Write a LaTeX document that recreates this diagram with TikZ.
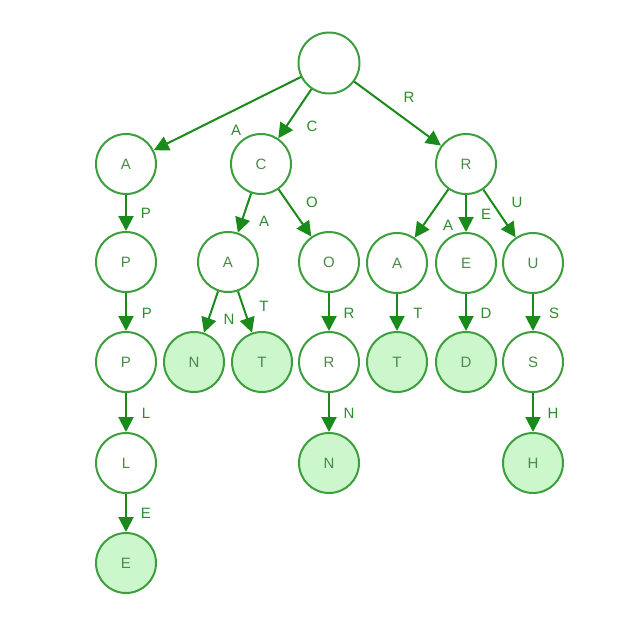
\documentclass[tikz,border=0pt]{standalone}
\usepackage{fontspec}
\setmainfont{Liberation Sans}
\usetikzlibrary{arrows.meta}
\definecolor{nodeline}{HTML}{3C9E3C}
\definecolor{edgeline}{HTML}{1A8A1A}
\definecolor{leaffill}{HTML}{CCF7CC}
\definecolor{nodetext}{HTML}{4A8A4A}
\definecolor{labeltext}{HTML}{2E8B2E}
\begin{document}
\begin{tikzpicture}[x=1pt,y=-1pt,
  trie/.style={circle,draw=nodeline,line width=2pt,minimum size=60pt,inner sep=0pt,font=\fontsize{15}{17}\selectfont,text=nodetext,fill=white},
  leaf/.style={trie,fill=leaffill},
  edge/.style={draw=edgeline,line width=2pt,-{Triangle[length=15pt,width=15pt]}},
  lab/.style={font=\fontsize{15}{17}\selectfont,text=labeltext,inner sep=0pt}]
\useasboundingbox (0,0) rectangle (640,640);
% nodes
\node[trie,minimum size=61pt] (root) at (329,63) {};
\node[trie] (a1) at (126,164) {A};
\node[trie] (c1) at (261,164) {C};
\node[trie] (r1) at (466,164) {R};
\node[trie] (p2) at (126,262) {P};
\node[trie] (a2) at (228,262) {A};
\node[trie] (o2) at (329,262) {O};
\node[trie] (ra2) at (397,263) {A};
\node[trie] (e2) at (466,263) {E};
\node[trie] (u2) at (533,263) {U};
\node[trie] (p3) at (126,362) {P};
\node[leaf] (n3) at (194,362) {N};
\node[leaf] (t3) at (262,362) {T};
\node[trie] (r3) at (329,362) {R};
\node[leaf] (rt3) at (397,362) {T};
\node[leaf] (d3) at (466,362) {D};
\node[trie] (s3) at (533,362) {S};
\node[trie] (l4) at (126,463) {L};
\node[leaf] (n4) at (329,463) {N};
\node[leaf] (h4) at (533,463) {H};
\node[leaf] (e5) at (126,563) {E};
% edges
\draw[edge] (root) -- (a1);
\draw[edge] (root) -- (c1);
\draw[edge] (root) -- (r1);
\draw[edge] (a1) -- (p2);
\draw[edge] (c1) -- (a2);
\draw[edge] (c1) -- (o2);
\draw[edge] (r1) -- (ra2);
\draw[edge] (r1) -- (e2);
\draw[edge] (r1) -- (u2);
\draw[edge] (p2) -- (p3);
\draw[edge] (a2) -- (n3);
\draw[edge] (a2) -- (t3);
\draw[edge] (o2) -- (r3);
\draw[edge] (ra2) -- (rt3);
\draw[edge] (e2) -- (d3);
\draw[edge] (u2) -- (s3);
\draw[edge] (p3) -- (l4);
\draw[edge] (r3) -- (n4);
\draw[edge] (s3) -- (h4);
\draw[edge] (l4) -- (e5);
% labels
\node[lab] (lR) at (409,97) {R};
\node[lab] (lA1) at (236,130) {A};
\node[lab] (lC) at (312,126) {C};
\node[lab] (lP1) at (146,213) {P};
\node[lab] (lA2) at (264,221) {A};
\node[lab] (lO) at (312,202) {O};
\node[lab] (lA3) at (448,225) {A};
\node[lab] (lE) at (486,214) {E};
\node[lab] (lU) at (517,202) {U};
\node[lab] (lP2) at (147,313) {P};
\node[lab] (lN1) at (229,319) {N};
\node[lab] (lT1) at (264,306) {T};
\node[lab] (lR2) at (349,313) {R};
\node[lab] (lT2) at (418,313) {T};
\node[lab] (lD) at (486,313) {D};
\node[lab] (lS) at (554,313) {S};
\node[lab] (lL) at (146,413) {L};
\node[lab] (lN2) at (349,413) {N};
\node[lab] (lH) at (553,413) {H};
\node[lab] (lE2) at (146,513) {E};
\end{tikzpicture}
\end{document}
